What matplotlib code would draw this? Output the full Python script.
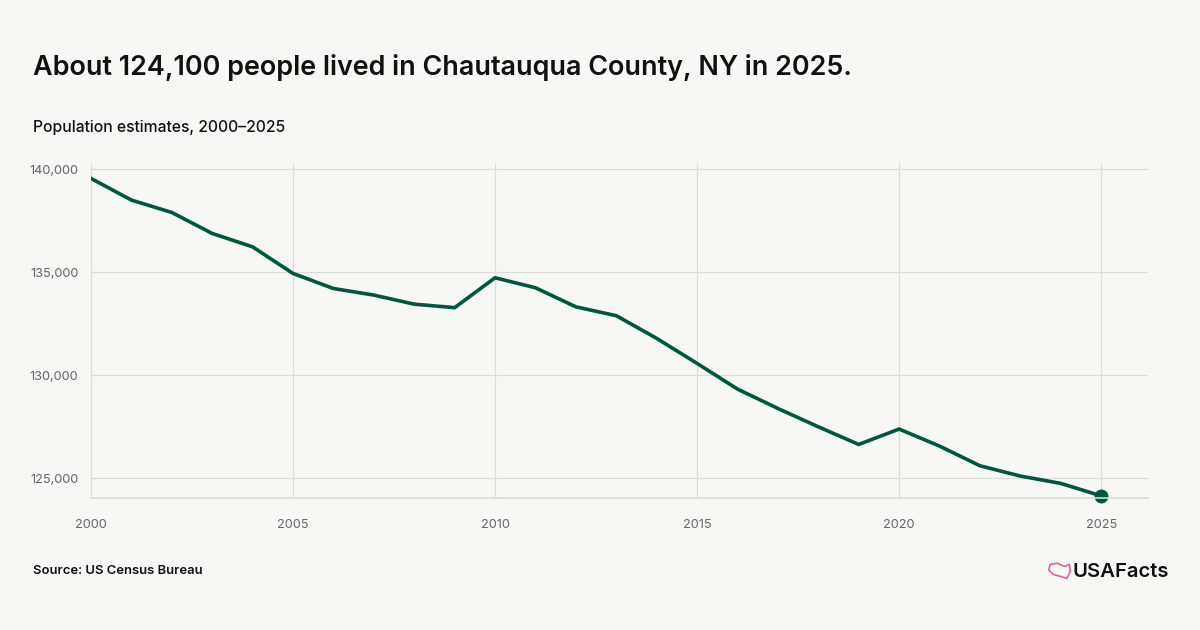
import matplotlib.pyplot as plt
from matplotlib.patches import Polygon

years = list(range(2000, 2026))
population = [139550, 138500, 137900, 136880, 136230, 134940, 134210, 133890,
              133450, 133280, 134730, 134245, 133320, 132890, 131790, 130575,
              129330, 128390, 127500, 126645, 127390, 126565, 125610, 125110,
              124755, 124150]
x_ticks = [2000, 2005, 2010, 2015, 2020, 2025]
y_ticks = [125000, 130000, 135000, 140000]

BG = "#f7f7f3"
GREEN = "#00573f"
GRID = "#dcdcd8"

plt.rcParams['font.family'] = ['Inter', 'DejaVu Sans']


def draw_chart():
    fig = plt.figure(figsize=(12, 6.3), dpi=100, facecolor=BG)
    ax = fig.add_axes([0.0758, 0.209, 0.8809, 0.532], facecolor=BG)

    ax.plot(years, population, color=GREEN, lw=2.6, solid_joinstyle='miter')
    ax.plot(years[-1], population[-1], 'o', color=GREEN, ms=9, clip_on=False)

    ax.set_xlim(2000, 2026.16)
    ax.set_ylim(124030, 140290)
    ax.set_xticks(x_ticks)
    ax.set_yticks(y_ticks)
    ax.set_xticklabels([str(x) for x in x_ticks])
    ax.set_yticklabels([f"{y:,}" for y in y_ticks])
    ax.tick_params(length=0, labelsize=9.2, labelcolor="#666666")
    ax.tick_params(axis='x', pad=15)
    ax.tick_params(axis='y', pad=9)
    ax.grid(True, color=GRID, lw=0.9)
    ax.set_axisbelow(True)
    for s in ['top', 'right', 'left']:
        ax.spines[s].set_visible(False)
    ax.spines['bottom'].set_color(GRID)
    ax.spines['bottom'].set_linewidth(1.2)

    fig.text(0.0275, 0.893, "About 124,100 people lived in Chautauqua County, NY in 2025.",
             fontsize=19.4, fontweight='semibold', color="#111111", va='center')
    fig.text(0.0275, 0.798, "Population estimates, 2000\u20132025",
             fontsize=11.3, fontweight='medium', color="#111111", va='center')
    fig.text(0.0275, 0.094, "Source: US Census Bureau",
             fontsize=9.4, fontweight='semibold', color="#111111", va='center')
    fig.text(0.974, 0.092, "USAFacts", fontsize=14.6, fontweight='semibold',
             color="#111111", va='center', ha='right')

    # small pink map outline for the logo
    logo = [(0.875, 0.104), (0.881, 0.106), (0.887, 0.101), (0.891, 0.104),
            (0.892, 0.093), (0.889, 0.082), (0.884, 0.085), (0.878, 0.088),
            (0.874, 0.095)]
    fig.patches.append(Polygon(logo, closed=True, fill=False, edgecolor="#e85aa8",
                               lw=1.2, transform=fig.transFigure))

    fig.savefig('out.png', dpi=100, facecolor=BG)


if __name__ == '__main__':
    draw_chart()
